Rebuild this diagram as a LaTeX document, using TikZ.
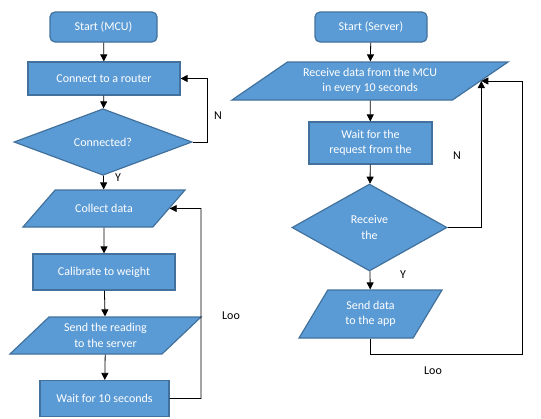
\documentclass[tikz,border=0pt]{standalone}
\usepackage{fontspec}
\setmainfont{Carlito}
\usetikzlibrary{shapes.geometric,arrows.meta}
\definecolor{boxfill}{HTML}{5B9BD5}
\definecolor{boxline}{HTML}{41719C}
\newcommand{\iotext}[3]{\parbox[c][#1][c]{#2}{\centering #3}}
\tikzset{
  box/.style={draw=boxline,fill=boxfill,line width=1.2pt,text=white,
    align=center,inner sep=0pt,font=\fontsize{12}{15.5}\selectfont},
  startbox/.style={box,rounded corners=5pt},
  iobox/.style={box,trapezium,trapezium stretches body=true,
    trapezium left angle=#1,trapezium right angle={180-#1}},
  askbox/.style={box,diamond},
  arr/.style={-{Triangle[length=7pt,width=7pt]},line width=0.8pt},
  lbl/.style={font=\fontsize{12}{14}\selectfont}
}
\begin{document}
\begin{tikzpicture}[x=1pt,y=-1pt]
  \useasboundingbox (0,0) rectangle (541,418);

  % MCU side
  \node[startbox,minimum width=107pt,minimum height=30pt] (startm) at (103.5,27) {Start (MCU)};
  \node[box,minimum width=152pt,minimum height=33pt] (connect) at (104,78.5) {Connect to a router};
  \node[askbox,minimum width=178pt,minimum height=42pt] (connected) at (103,142) {Connected?};
  \node[iobox=49,minimum width=162pt] (collect) at (104,208.5) {\iotext{37pt}{90pt}{Collect data}};
  \node[box,minimum width=142pt,minimum height=36pt] (calib) at (104,272) {Calibrate to weight};
  \node[iobox=43.5,minimum width=191pt] (sendr) at (105.5,335.5) {\iotext{37pt}{105pt}{Send the reading\\to the server}};
  \node[box,minimum width=129pt,minimum height=36pt] (wait10) at (104.5,398.5) {Wait for 10 seconds};

  \coordinate (nbend) at (207,78.5);
  \coordinate (lbend) at (201,208.5);

  \draw[arr] (startm) -- (connect);
  \draw[arr] (connect) -- (connected);
  \draw[arr] (connected.east) -| (nbend) -- (connect.east);
  \draw[arr] (connected) -- (collect);
  \draw[arr] (collect) -- (calib);
  \draw[arr] (calib) -- (sendr);
  \draw[arr] (sendr) -- (wait10);
  \draw[arr] (wait10.east) -| (lbend) -- (collect.east);

  \node[lbl] (nm) at (218,116) {N};
  \node[lbl] (ym) at (118,178) {Y};
  \node[lbl] (loopm) at (231,316) {Loo};

  % server side
  \node[startbox,minimum width=112pt,minimum height=30pt] (starts) at (371,27) {Start (Server)};
  \node[iobox=34.4,minimum width=276pt] (recv) at (370,81) {\iotext{38pt}{150pt}{Receive data from the MCU\\in every 10 seconds}};
  \node[box,minimum width=123pt,minimum height=42pt] (waitreq) at (370.5,143) {Wait for the\\request from the};
  \node[askbox,minimum width=155pt,minimum height=87pt] (ask) at (369.5,227.5) {Receive\\the};
  \node[iobox=59,minimum width=143pt] (senda) at (370.5,314) {\iotext{48pt}{75pt}{Send data\\to the app}};

  \coordinate (rbend) at (522,354);

  \draw[arr] (starts) -- (recv);
  \draw[arr] (recv) -- (waitreq);
  \draw[arr] (waitreq) -- (ask);
  \draw[arr] (ask.east) -| (recv.east);
  \draw[arr] (ask) -- (senda);
  \draw[arr] (senda.south) |- (rbend) |- (recv.east);

  \node[lbl] (ns) at (457,156) {N};
  \node[lbl] (ys) at (403,275) {Y};
  \node[lbl] (loops) at (433,371) {Loo};
\end{tikzpicture}
\end{document}
